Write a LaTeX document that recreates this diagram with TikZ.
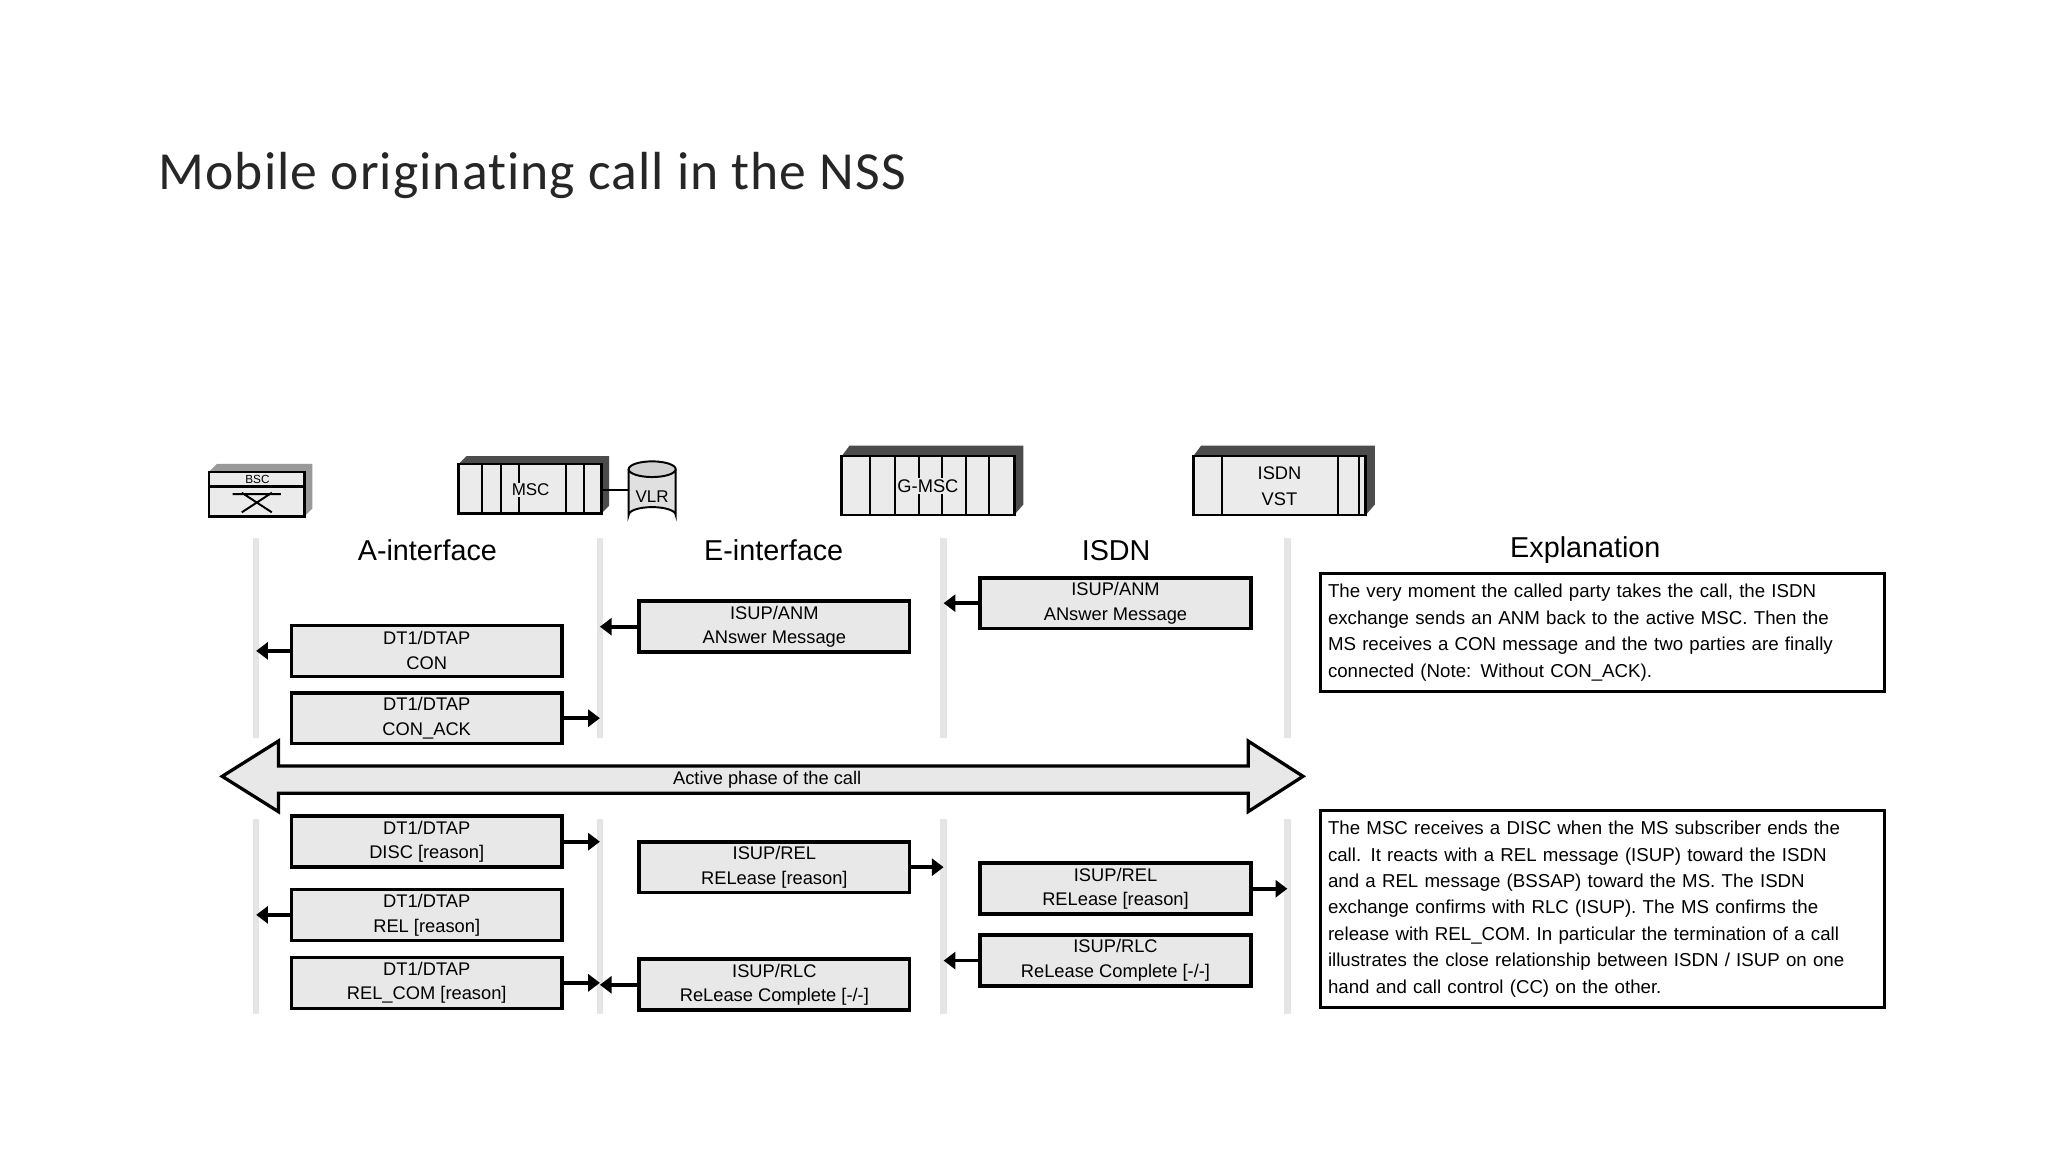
\documentclass[tikz,border=0pt]{standalone}
\usepackage{fontspec}
\setmainfont{Liberation Sans}
\newfontfamily\titlefont[Ligatures=NoCommon,LetterSpace=2]{Carlito}
\usetikzlibrary{arrows.meta,shapes.geometric}
\begin{document}
\begin{tikzpicture}[x=1pt,y=-1pt,
  life/.style={line width=5pt,draw=black!10},
  msg/.style={draw=black,line width=2.8pt,fill=black!9,minimum width=207pt,minimum height=39pt,inner sep=0pt,align=center,font=\fontsize{14}{19}\selectfont},
  arr/.style={line width=2.8pt,-{Triangle[length=9pt,width=13pt]}},
  hdr/.style={font=\fontsize{22}{24}\selectfont},
  expl/.style={draw=black,line width=2.2pt,fill=white,align=left,anchor=north west,inner sep=6pt,font=\fontsize{14.3}{20.2}\selectfont},
  rack/.style={draw=black,line width=2pt,fill=black!8}]
\useasboundingbox (0,0) rectangle (1567,881.4);
\node[anchor=base west,font=\titlefont\fontsize{41}{48}\selectfont,text=black!85] (title) at (118,145) {Mobile originating call in the NSS};
% lifelines
\foreach \n/\x in {a/196,b/459,c/722,d/985}{
  \coordinate (\n) at (\x,500);
  \draw[life] (\x,412) -- (\x,565);
  \draw[life] (\x,627) -- (\x,776);
}
% headers
\node[hdr] (ha) at (327,421) {A-interface};
\node[hdr] (hb) at (592,421) {E-interface};
\node[hdr] (hc) at (854,421) {ISDN};
\node[hdr] (hd) at (1213,421) {Explanation};
% equipment: BSC
\fill[black!40] (160,361) -- (166,355) -- (239,355) -- (239,389) -- (233,395) -- (233,361) -- cycle;
\draw[rack] (160,361) rectangle (233,395);
\draw[line width=2pt] (160,372) -- (233,372);
\node[font=\fontsize{9}{9}\selectfont,inner sep=0pt] (bsc) at (197,367) {BSC};
\draw[line width=1.5pt] (178,378) -- (215,378) (185,377) -- (208,392) (208,377) -- (185,392);
% MSC
\fill[black!70] (351,355) -- (357,349) -- (466,349) -- (466,387) -- (460,393) -- (460,355) -- cycle;
\draw[rack] (351,355) rectangle (460,393);
\foreach \x in {369,383,397,433,447} \draw[line width=1.5pt] (\x,355) -- (\x,393);
\node[fill=black!8,font=\fontsize{13}{13}\selectfont,inner sep=1pt] (msc) at (406,375) {MSC};
\draw[line width=2pt] (460,375) -- (481,375);
% VLR
\draw[line width=1.5pt,fill=black!12] (481,359) -- (481,394) arc[start angle=180,end angle=360,x radius=18,y radius=6] -- (517,359);
\draw[line width=1.5pt,fill=black!18] (499,359) ellipse[x radius=18,y radius=6];
\node[font=\fontsize{13}{13}\selectfont] (vlr) at (499,380) {VLR};
% G-MSC
\fill[black!70] (644,349) -- (650,341) -- (783,341) -- (783,386) -- (776,394) -- (776,349) -- cycle;
\draw[rack] (644,349) rectangle (776,394);
\foreach \x in {666,685,703,721,739,757} \draw[line width=1.5pt] (\x,349) -- (\x,394);
\node[fill=black!8,font=\fontsize{14}{14}\selectfont,inner sep=1pt] (gmsc) at (710,372) {G-MSC};
% ISDN VST
\fill[black!70] (913,349) -- (919,341) -- (1052,341) -- (1052,386) -- (1045,394) -- (1045,349) -- cycle;
\draw[rack] (913,349) rectangle (1045,394);
\foreach \x in {935,1024,1040} \draw[line width=1.5pt] (\x,349) -- (\x,394);
\node[fill=black!8,font=\fontsize{14}{20}\selectfont,inner sep=1pt,align=center,minimum width=86pt] (vst) at (979,372) {ISDN\\VST};
% messages upper
\node[msg] (anm2) at (853.5,461.5) {ISUP/ANM\\ANswer Message};
\node[msg] (anm1) at (592.5,479.5) {ISUP/ANM\\ANswer Message};
\node[msg] (con) at (326.5,498) {DT1/DTAP\\CON};
\node[msg] (conack) at (326.5,549.5) {DT1/DTAP\\CON\_ACK};
\draw[arr] (anm2.west) -- (anm2.west -| c);
\draw[arr] (anm1.west) -- (anm1.west -| b);
\draw[arr] (con.west) -- (con.west -| a);
\draw[arr] (conack.east) -- (conack.east -| b);
% active phase
\draw[line width=2.5pt,fill=black!9] (170,594) -- (213,567) -- (213,586) -- (955,586) -- (955,567) -- (997,594) -- (955,621) -- (955,607) -- (213,607) -- (213,621) -- cycle;
\node[font=\fontsize{14}{14}\selectfont] (active) at (587,597) {Active phase of the call};
% messages lower
\node[msg] (disc) at (326.5,644) {DT1/DTAP\\DISC [reason]};
\node[msg] (rel1) at (592.5,663.5) {ISUP/REL\\RELease [reason]};
\node[msg] (rel2) at (853.5,680) {ISUP/REL\\RELease [reason]};
\node[msg] (rel0) at (326.5,700) {DT1/DTAP\\REL [reason]};
\node[msg] (rlc2) at (853.5,735) {ISUP/RLC\\ReLease Complete [-/-]};
\node[msg] (relcom) at (326.5,752) {DT1/DTAP\\REL\_COM [reason]};
\node[msg] (rlc1) at (592.5,753.5) {ISUP/RLC\\ReLease Complete [-/-]};
\draw[arr] (disc.east) -- (disc.east -| b);
\draw[arr] (rel1.east) -- (rel1.east -| c);
\draw[arr] (rel2.east) -- (rel2.east -| d);
\draw[arr] (rel0.west) -- (rel0.west -| a);
\draw[arr] (rlc2.west) -- (rlc2.west -| c);
\draw[arr] (relcom.east) -- (relcom.east -| b);
\draw[arr] (rlc1.west) -- (rlc1.west -| b);
% explanations
\node[expl,text width=420pt,minimum height=90pt] (e1) at (1009,438) {The very moment the called party takes the call, the ISDN\\exchange sends an ANM back to the active MSC. Then the\\MS receives a CON message and the two parties are finally\\connected (Note: Without CON\_ACK).};
\node[expl,text width=420pt,minimum height=151pt] (e2) at (1009,619) {The MSC receives a DISC when the MS subscriber ends the\\call. It reacts with a REL message (ISUP) toward the ISDN\\and a REL message (BSSAP) toward the MS. The ISDN\\exchange confirms with RLC (ISUP). The MS confirms the\\release with REL\_COM. In particular the termination of a call\\illustrates the close relationship between ISDN / ISUP on one\\hand and call control (CC) on the other.};
\end{tikzpicture}
\end{document}
